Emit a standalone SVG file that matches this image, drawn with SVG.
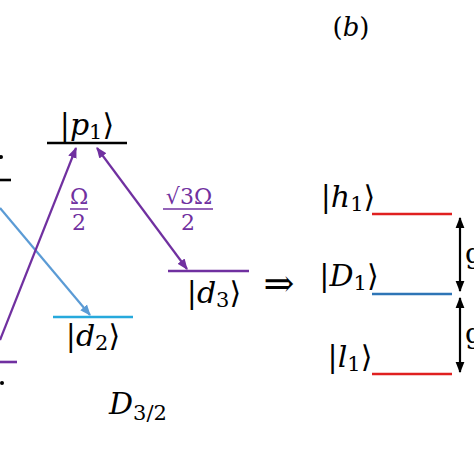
<svg xmlns="http://www.w3.org/2000/svg" width="474" height="474" viewBox="0 0 474 474">
<defs>
<style>
.t{font-family:"DejaVu Serif","Liberation Serif",serif;fill:#000;}
.k{font-size:30px;text-anchor:middle;}
.i{font-style:italic;}
.s{font-size:21px;font-style:normal;}
.lvl{stroke-width:2.6;fill:none;}
.pur{stroke:#7030a0;}
.frac{font-family:"DejaVu Serif","Liberation Serif",serif;fill:#7030a0;font-size:22px;text-anchor:middle;}
</style>
<marker id="ap" viewBox="0 0 10 10" refX="9" refY="5" markerWidth="5" markerHeight="5" orient="auto-start-reverse" markerUnits="strokeWidth"><path d="M0,1 L10,5 L0,9 Z" fill="#7030a0"/></marker>
<marker id="ab" viewBox="0 0 10 10" refX="9" refY="5" markerWidth="5" markerHeight="5" orient="auto-start-reverse" markerUnits="strokeWidth"><path d="M0,1 L10,5 L0,9 Z" fill="#5b9bd5"/></marker>
<marker id="ak" viewBox="0 0 10 10" refX="9" refY="5" markerWidth="5" markerHeight="5" orient="auto-start-reverse" markerUnits="strokeWidth"><path d="M0,1 L10,5 L0,9 Z" fill="#000"/></marker>
</defs>
<rect width="474" height="474" fill="#fff"/>

<text class="t i" x="351" y="36" font-size="26" text-anchor="middle"><tspan font-style="normal">(</tspan>b<tspan font-style="normal">)</tspan></text>

<g id="left-partial">
<circle cx="1" cy="157" r="2" fill="#000"/>
<line x1="0" y1="180" x2="11" y2="180" stroke="#000" class="lvl"/>
<line x1="0" y1="362" x2="17" y2="362" class="lvl pur"/>
<circle cx="2" cy="383" r="2" fill="#000"/>
</g>

<g id="p1">
<line x1="47" y1="143" x2="127" y2="143" stroke="#000" class="lvl"/>
<text class="t k" x="87" y="135">|<tspan class="i">p</tspan><tspan class="s" dy="4">1</tspan><tspan dy="-4">⟩</tspan></text>
</g>

<g id="d2">
<line x1="53" y1="317" x2="133" y2="317" stroke="#26a9dc" class="lvl"/>
<text class="t k" x="93" y="346">|<tspan class="i">d</tspan><tspan class="s" dy="4">2</tspan><tspan dy="-4">⟩</tspan></text>
</g>

<g id="d3">
<line x1="168" y1="271" x2="249" y2="271" class="lvl pur"/>
<text class="t k" x="214" y="303">|<tspan class="i">d</tspan><tspan class="s" dy="4">3</tspan><tspan dy="-4">⟩</tspan></text>
</g>

<text class="t i" x="109" y="414" font-size="30">D<tspan class="s" font-size="22" dy="6">3/2</tspan></text>

<text class="t" x="279" y="296" font-size="37" text-anchor="middle">⇒</text>

<g id="h1">
<line x1="372" y1="214" x2="452" y2="214" stroke="#e02020" class="lvl"/>
<text class="t k" x="348" y="207">|<tspan class="i">h</tspan><tspan class="s" dy="4">1</tspan><tspan dy="-4">⟩</tspan></text>
</g>
<g id="D1">
<line x1="372" y1="294" x2="452" y2="294" stroke="#2e75b6" class="lvl"/>
<text class="t k" x="349" y="286">|<tspan class="i">D</tspan><tspan class="s" dy="4">1</tspan><tspan dy="-4">⟩</tspan></text>
</g>
<g id="l1">
<line x1="372" y1="374" x2="452" y2="374" stroke="#e02020" class="lvl"/>
<text class="t k" x="350" y="367">|<tspan class="i">l</tspan><tspan class="s" dy="4">1</tspan><tspan dy="-4">⟩</tspan></text>
</g>

<text class="t" x="465" y="263" font-size="28">g</text>
<text class="t" x="465" y="343" font-size="28">g</text>

<g id="connectors" fill="none" stroke-width="2.2">
<line x1="0" y1="208" x2="90" y2="315" stroke="#5b9bd5" marker-end="url(#ab)"/>
<line x1="0" y1="340" x2="76" y2="148" stroke="#7030a0" marker-end="url(#ap)"/>
<line x1="97" y1="148" x2="187" y2="269" stroke="#7030a0" marker-start="url(#ap)" marker-end="url(#ap)"/>
<line x1="460" y1="218" x2="460" y2="291" stroke="#000" marker-start="url(#ak)" marker-end="url(#ak)"/>
<line x1="460" y1="298" x2="460" y2="372" stroke="#000" marker-start="url(#ak)" marker-end="url(#ak)"/>
</g>

<g id="labels">
<text class="frac" x="79" y="204">Ω</text>
<line x1="70" y1="209" x2="88" y2="209" stroke="#7030a0" stroke-width="1.5"/>
<text class="frac" x="79" y="230">2</text>
<text class="frac" x="189" y="204">√3Ω</text>
<line x1="163" y1="209" x2="213" y2="209" stroke="#7030a0" stroke-width="1.5"/>
<text class="frac" x="188" y="230">2</text>
</g>
</svg>
